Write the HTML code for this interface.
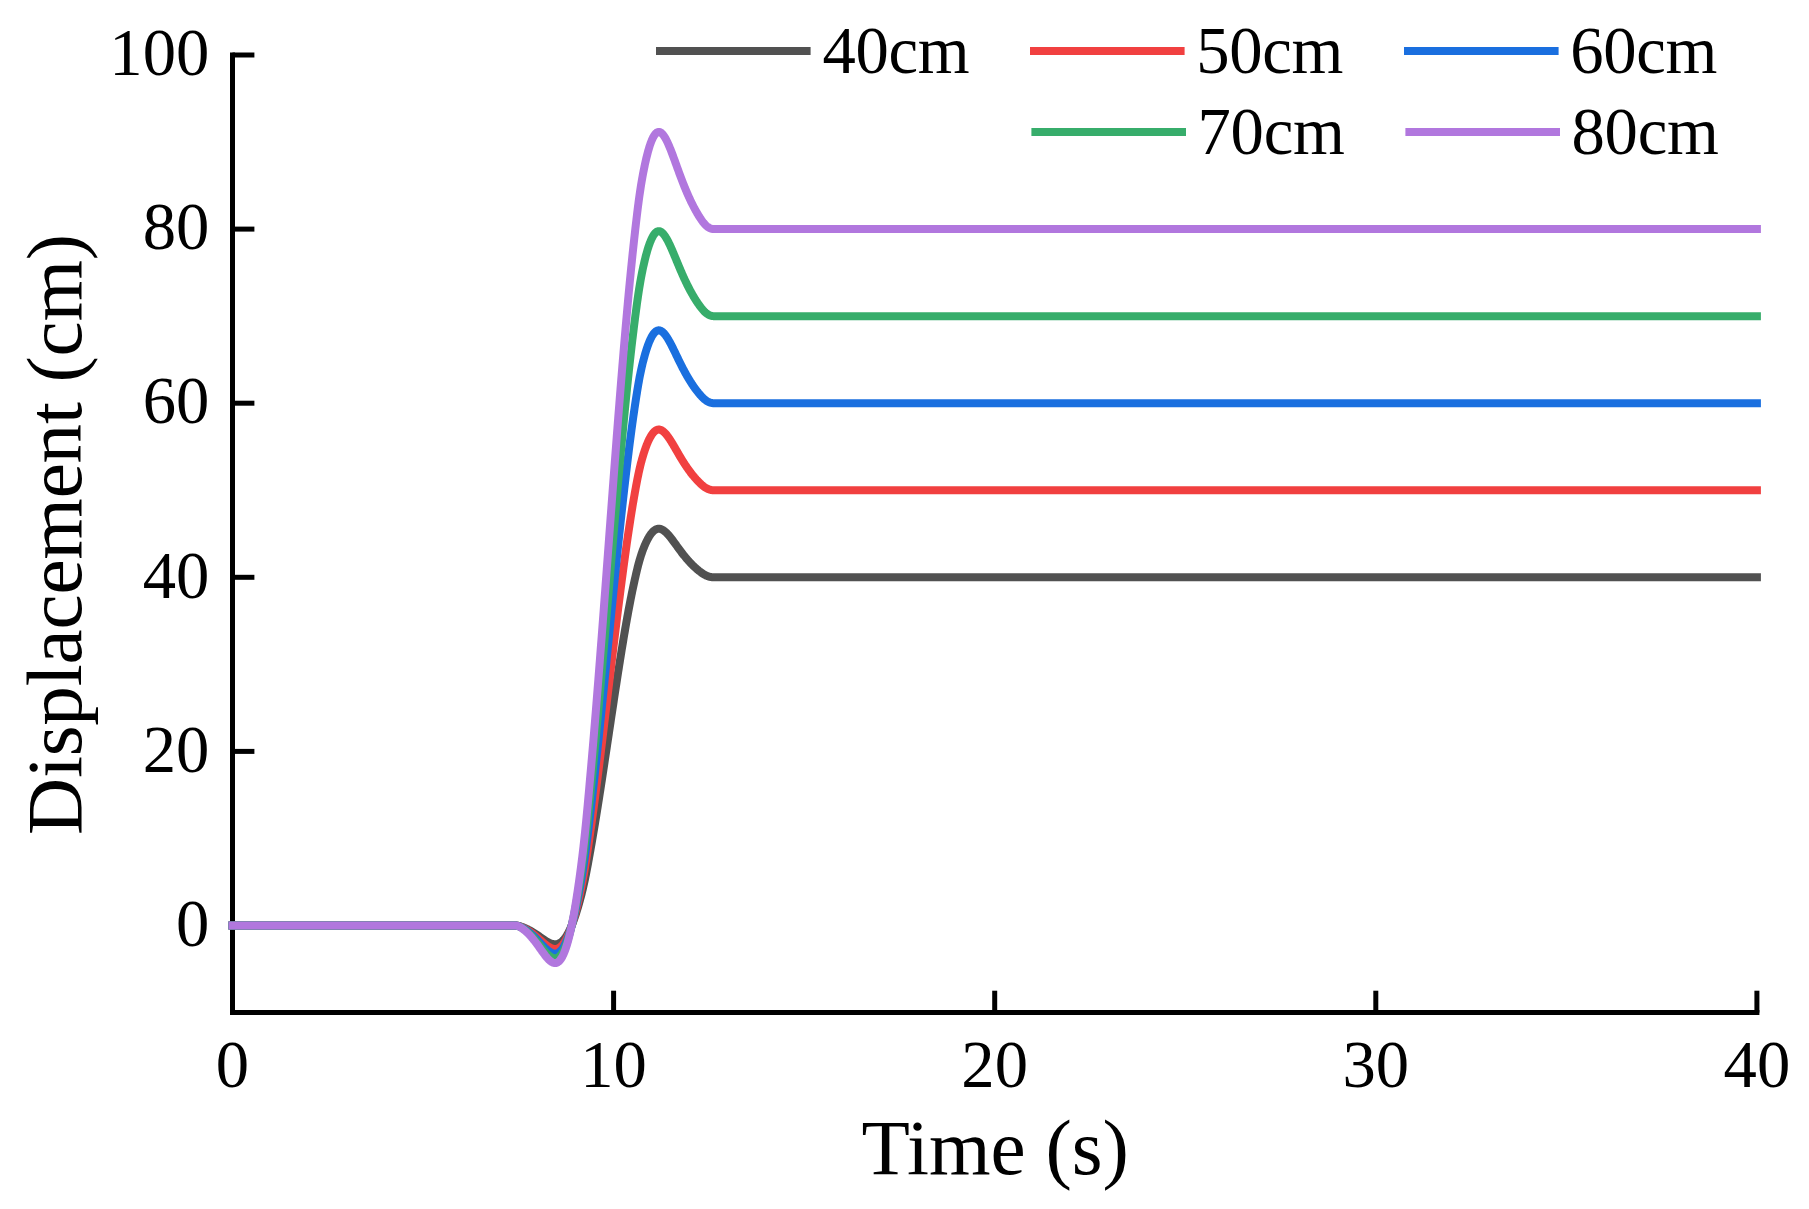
<!DOCTYPE html>
<html><head><meta charset="utf-8"><title>Displacement vs Time</title>
<style>
html,body{margin:0;padding:0;background:#fff;overflow:hidden;}
svg{display:block;}
text{font-family:"Liberation Serif","Times New Roman",serif;fill:#000;}
.tk{font-size:66.67px;}
.lb{font-size:79.17px;}
.lgt{letter-spacing:-0.3px;}
.yl{letter-spacing:-0.2px;}
.ax{stroke:#000;stroke-width:5;fill:none;stroke-linecap:square;}
.tick{stroke:#000;stroke-width:5;fill:none;stroke-linecap:butt;}
.ln{fill:none;stroke-width:8;stroke-linejoin:round;stroke-linecap:square;}
.lg{fill:none;stroke-width:8;stroke-linecap:square;}
</style></head><body>
<svg width="1809" height="1209" viewBox="0 0 1809 1209">
<rect width="1809" height="1209" fill="#fff"/>
<path class="ax" d="M232.5 55.00 L232.5 1012.6 L1756.90 1012.6"/>
<path class="tick" d="M232.5 925.50 h21.9"/>
<path class="tick" d="M232.5 751.40 h21.9"/>
<path class="tick" d="M232.5 577.30 h21.9"/>
<path class="tick" d="M232.5 403.20 h21.9"/>
<path class="tick" d="M232.5 229.10 h21.9"/>
<path class="tick" d="M232.5 55.00 h21.9"/>
<path class="tick" d="M232.50 1012.6 v-21.9"/>
<path class="tick" d="M613.60 1012.6 v-21.9"/>
<path class="tick" d="M994.70 1012.6 v-21.9"/>
<path class="tick" d="M1375.80 1012.6 v-21.9"/>
<path class="tick" d="M1756.90 1012.6 v-21.9"/>
<path class="ln" stroke="#515151" d="M232.50 925.50 L514.51 925.50 L514.51 925.50 L514.90 925.50 L515.28 925.50 L515.66 925.51 L516.04 925.52 L516.42 925.55 L516.80 925.60 L517.18 925.65 L517.56 925.70 L517.94 925.77 L518.32 925.85 L518.71 925.93 L519.09 926.02 L519.47 926.12 L519.85 926.22 L520.23 926.33 L520.61 926.44 L520.99 926.56 L521.37 926.69 L521.75 926.81 L522.14 926.95 L522.52 927.08 L522.90 927.23 L523.28 927.37 L523.66 927.52 L524.04 927.67 L524.42 927.83 L524.80 927.99 L525.18 928.15 L525.57 928.32 L525.95 928.49 L526.33 928.66 L526.71 928.84 L527.09 929.02 L527.47 929.20 L527.85 929.39 L528.23 929.58 L528.61 929.77 L529.00 929.97 L529.38 930.17 L529.76 930.37 L530.14 930.58 L530.52 930.79 L530.90 931.00 L531.28 931.22 L531.66 931.44 L532.04 931.66 L532.43 931.89 L532.81 932.12 L533.19 932.35 L533.57 932.58 L533.95 932.82 L534.33 933.06 L534.71 933.31 L535.09 933.55 L535.47 933.80 L535.86 934.06 L536.24 934.31 L536.62 934.57 L537.00 934.82 L537.38 935.09 L537.76 935.35 L538.14 935.61 L538.52 935.88 L538.90 936.14 L539.29 936.41 L539.67 936.68 L540.05 936.95 L540.43 937.22 L540.81 937.48 L541.19 937.75 L541.57 938.02 L541.95 938.29 L542.33 938.55 L542.72 938.82 L543.10 939.08 L543.48 939.34 L543.86 939.60 L544.24 939.86 L544.62 940.11 L545.00 940.36 L545.38 940.60 L545.76 940.84 L546.15 941.08 L546.53 941.31 L546.91 941.54 L547.29 941.76 L547.67 941.97 L548.05 942.18 L548.43 942.38 L548.81 942.57 L549.19 942.75 L549.58 942.93 L549.96 943.10 L550.34 943.26 L550.72 943.40 L551.10 943.54 L551.48 943.67 L551.86 943.79 L552.24 943.89 L552.62 943.98 L553.01 944.07 L553.39 944.13 L553.77 944.19 L554.15 944.23 L554.53 944.26 L554.91 944.27 L555.29 944.27 L555.67 944.25 L556.05 944.22 L556.43 944.17 L556.82 944.11 L557.20 944.02 L557.58 943.92 L557.96 943.81 L558.34 943.67 L558.72 943.52 L559.10 943.35 L559.48 943.15 L559.86 942.94 L560.25 942.71 L560.63 942.46 L561.01 942.19 L561.39 941.90 L561.77 941.59 L562.15 941.25 L562.53 940.90 L562.91 940.52 L563.29 940.13 L563.68 939.71 L564.06 939.26 L564.44 938.80 L564.82 938.31 L565.20 937.80 L565.58 937.27 L565.96 936.71 L566.34 936.13 L566.72 935.53 L567.11 934.90 L567.49 934.25 L567.87 933.58 L568.25 932.88 L568.63 932.16 L569.01 931.41 L569.39 930.65 L569.77 929.85 L570.15 929.04 L570.54 928.20 L570.92 927.34 L571.30 926.45 L571.68 925.54 L572.06 924.60 L572.44 923.65 L572.82 922.67 L573.20 921.66 L573.58 920.63 L573.97 919.58 L574.35 918.51 L574.73 917.41 L575.11 916.29 L575.49 915.15 L575.87 913.99 L576.25 912.80 L576.63 911.59 L577.01 910.36 L577.40 909.11 L577.78 907.83 L578.16 906.54 L578.54 905.22 L578.92 903.88 L579.30 902.52 L579.68 901.14 L580.06 899.73 L580.44 898.31 L580.83 896.87 L581.21 895.40 L581.59 893.90 L581.97 892.37 L582.35 890.81 L582.73 889.22 L583.11 887.60 L583.49 885.93 L583.87 884.24 L584.26 882.50 L584.64 880.73 L585.02 878.92 L585.40 877.07 L585.78 875.19 L586.16 873.27 L586.54 871.31 L586.92 869.32 L587.30 867.31 L587.69 865.26 L588.07 863.19 L588.45 861.10 L588.83 858.99 L589.21 856.87 L589.59 854.73 L589.97 852.59 L590.35 850.45 L590.73 848.31 L591.12 846.15 L591.50 843.99 L591.88 841.80 L592.26 839.60 L592.64 837.39 L593.02 835.15 L593.40 832.91 L593.78 830.64 L594.16 828.37 L594.54 826.08 L594.93 823.77 L595.31 821.45 L595.69 819.12 L596.07 816.78 L596.45 814.42 L596.83 812.06 L597.21 809.68 L597.59 807.29 L597.97 804.89 L598.36 802.48 L598.74 800.06 L599.12 797.63 L599.50 795.19 L599.88 792.74 L600.26 790.28 L600.64 787.81 L601.02 785.34 L601.40 782.86 L601.79 780.37 L602.17 777.88 L602.55 775.38 L602.93 772.87 L603.31 770.36 L603.69 767.84 L604.07 765.32 L604.45 762.79 L604.83 760.26 L605.22 757.73 L605.60 755.19 L605.98 752.65 L606.36 750.11 L606.74 747.56 L607.12 745.01 L607.50 742.46 L607.88 739.91 L608.26 737.36 L608.65 734.81 L609.03 732.26 L609.41 729.71 L609.79 727.16 L610.17 724.61 L610.55 722.06 L610.93 719.52 L611.31 716.97 L611.69 714.43 L612.08 711.89 L612.46 709.36 L612.84 706.83 L613.22 704.30 L613.60 701.78 L613.98 699.26 L614.36 696.75 L614.74 694.24 L615.12 691.74 L615.51 689.24 L615.89 686.76 L616.27 684.28 L616.65 681.80 L617.03 679.34 L617.41 676.88 L617.79 674.43 L618.17 671.99 L618.55 669.56 L618.94 667.13 L619.32 664.72 L619.70 662.32 L620.08 659.93 L620.46 657.55 L620.84 655.18 L621.22 652.82 L621.60 650.48 L621.98 648.15 L622.37 645.83 L622.75 643.52 L623.13 641.23 L623.51 638.95 L623.89 636.69 L624.27 634.44 L624.65 632.21 L625.03 629.99 L625.41 627.79 L625.80 625.60 L626.18 623.43 L626.56 621.28 L626.94 619.15 L627.32 617.03 L627.70 614.93 L628.08 612.85 L628.46 610.79 L628.84 608.75 L629.23 606.72 L629.61 604.72 L629.99 602.74 L630.37 600.78 L630.75 598.84 L631.13 596.92 L631.51 595.02 L631.89 593.14 L632.27 591.29 L632.65 589.46 L633.04 587.65 L633.42 585.87 L633.80 584.11 L634.18 582.37 L634.56 580.66 L634.94 578.96 L635.32 577.27 L635.70 575.60 L636.08 573.94 L636.47 572.30 L636.85 570.69 L637.23 569.11 L637.61 567.56 L637.99 566.05 L638.37 564.57 L638.75 563.14 L639.13 561.74 L639.51 560.38 L639.90 559.07 L640.28 557.80 L640.66 556.56 L641.04 555.37 L641.42 554.21 L641.80 553.09 L642.18 552.00 L642.56 550.95 L642.94 549.92 L643.33 548.92 L643.71 547.94 L644.09 546.99 L644.47 546.05 L644.85 545.14 L645.23 544.26 L645.61 543.40 L645.99 542.56 L646.37 541.75 L646.76 540.97 L647.14 540.20 L647.52 539.46 L647.90 538.75 L648.28 538.06 L648.66 537.40 L649.04 536.76 L649.42 536.14 L649.80 535.55 L650.19 534.99 L650.57 534.44 L650.95 533.93 L651.33 533.43 L651.71 532.97 L652.09 532.52 L652.47 532.10 L652.85 531.71 L653.23 531.34 L653.62 530.99 L654.00 530.67 L654.38 530.38 L654.76 530.10 L655.14 529.86 L655.52 529.63 L655.90 529.43 L656.28 529.26 L656.66 529.11 L657.05 528.99 L657.43 528.88 L657.81 528.81 L658.19 528.76 L658.57 528.73 L658.95 528.73 L659.33 528.75 L659.71 528.80 L660.09 528.86 L660.48 528.96 L660.86 529.07 L661.24 529.20 L661.62 529.36 L662.00 529.53 L662.38 529.73 L662.76 529.94 L663.14 530.17 L663.52 530.42 L663.91 530.69 L664.29 530.97 L664.67 531.27 L665.05 531.59 L665.43 531.92 L665.81 532.26 L666.19 532.62 L666.57 532.99 L666.95 533.37 L667.34 533.77 L667.72 534.18 L668.10 534.59 L668.48 535.02 L668.86 535.46 L669.24 535.91 L669.62 536.36 L670.00 536.82 L670.38 537.30 L670.76 537.77 L671.15 538.26 L671.53 538.75 L671.91 539.24 L672.29 539.75 L672.67 540.25 L673.05 540.76 L673.43 541.28 L673.81 541.79 L674.19 542.31 L674.58 542.83 L674.96 543.36 L675.34 543.88 L675.72 544.41 L676.10 544.94 L676.48 545.47 L676.86 545.99 L677.24 546.52 L677.62 547.05 L678.01 547.57 L678.39 548.10 L678.77 548.62 L679.15 549.14 L679.53 549.66 L679.91 550.18 L680.29 550.69 L680.67 551.20 L681.05 551.71 L681.44 552.21 L681.82 552.71 L682.20 553.21 L682.58 553.70 L682.96 554.19 L683.34 554.67 L683.72 555.15 L684.10 555.63 L684.48 556.10 L684.87 556.57 L685.25 557.03 L685.63 557.49 L686.01 557.95 L686.39 558.40 L686.77 558.85 L687.15 559.29 L687.53 559.72 L687.91 560.16 L688.30 560.59 L688.68 561.01 L689.06 561.43 L689.44 561.85 L689.82 562.26 L690.20 562.66 L690.58 563.07 L690.96 563.47 L691.34 563.86 L691.73 564.25 L692.11 564.63 L692.49 565.02 L692.87 565.39 L693.25 565.76 L693.63 566.13 L694.01 566.49 L694.39 566.85 L694.77 567.21 L695.16 567.56 L695.54 567.91 L695.92 568.25 L696.30 568.58 L696.68 568.92 L697.06 569.25 L697.44 569.57 L697.82 569.89 L698.20 570.21 L698.59 570.52 L698.97 570.82 L699.35 571.13 L699.73 571.42 L700.11 571.72 L700.49 572.01 L700.87 572.29 L701.25 572.57 L701.63 572.85 L702.02 573.12 L702.40 573.38 L702.78 573.64 L703.16 573.89 L703.54 574.13 L703.92 574.36 L704.30 574.58 L704.68 574.79 L705.06 575.00 L705.45 575.19 L705.83 575.38 L706.21 575.56 L706.59 575.73 L706.97 575.89 L707.35 576.04 L707.73 576.19 L708.11 576.32 L708.49 576.45 L708.87 576.56 L709.26 576.67 L709.64 576.77 L710.02 576.86 L710.40 576.95 L710.78 577.02 L711.16 577.09 L711.54 577.14 L711.92 577.19 L712.30 577.23 L712.69 577.26 L713.07 577.28 L713.45 577.30 L713.83 577.30 L714.21 577.30 L714.59 577.30 L714.97 577.30 L1756.90 577.30"/>
<path class="ln" stroke="#F14040" d="M232.50 925.50 L514.51 925.50 L514.51 925.50 L514.90 925.50 L515.28 925.50 L515.66 925.51 L516.04 925.53 L516.42 925.57 L516.80 925.62 L517.18 925.68 L517.56 925.76 L517.94 925.84 L518.32 925.94 L518.71 926.04 L519.09 926.15 L519.47 926.27 L519.85 926.40 L520.23 926.54 L520.61 926.68 L520.99 926.83 L521.37 926.98 L521.75 927.14 L522.14 927.31 L522.52 927.48 L522.90 927.66 L523.28 927.84 L523.66 928.02 L524.04 928.21 L524.42 928.41 L524.80 928.61 L525.18 928.81 L525.57 929.02 L525.95 929.23 L526.33 929.45 L526.71 929.67 L527.09 929.90 L527.47 930.13 L527.85 930.36 L528.23 930.60 L528.61 930.84 L529.00 931.09 L529.38 931.34 L529.76 931.59 L530.14 931.85 L530.52 932.11 L530.90 932.38 L531.28 932.65 L531.66 932.92 L532.04 933.20 L532.43 933.48 L532.81 933.77 L533.19 934.06 L533.57 934.35 L533.95 934.65 L534.33 934.95 L534.71 935.26 L535.09 935.57 L535.47 935.88 L535.86 936.19 L536.24 936.51 L536.62 936.83 L537.00 937.16 L537.38 937.48 L537.76 937.81 L538.14 938.14 L538.52 938.47 L538.90 938.80 L539.29 939.14 L539.67 939.47 L540.05 939.81 L540.43 940.14 L540.81 940.48 L541.19 940.82 L541.57 941.15 L541.95 941.49 L542.33 941.82 L542.72 942.15 L543.10 942.48 L543.48 942.80 L543.86 943.13 L544.24 943.45 L544.62 943.76 L545.00 944.07 L545.38 944.38 L545.76 944.68 L546.15 944.98 L546.53 945.26 L546.91 945.55 L547.29 945.82 L547.67 946.09 L548.05 946.35 L548.43 946.60 L548.81 946.84 L549.19 947.07 L549.58 947.29 L549.96 947.50 L550.34 947.69 L550.72 947.88 L551.10 948.05 L551.48 948.21 L551.86 948.36 L552.24 948.49 L552.62 948.61 L553.01 948.71 L553.39 948.79 L553.77 948.86 L554.15 948.91 L554.53 948.95 L554.91 948.96 L555.29 948.96 L555.67 948.94 L556.05 948.90 L556.43 948.84 L556.82 948.76 L557.20 948.65 L557.58 948.53 L557.96 948.38 L558.34 948.21 L558.72 948.02 L559.10 947.81 L559.48 947.57 L559.86 947.30 L560.25 947.02 L560.63 946.70 L561.01 946.36 L561.39 946.00 L561.77 945.61 L562.15 945.19 L562.53 944.75 L562.91 944.28 L563.29 943.78 L563.68 943.26 L564.06 942.70 L564.44 942.12 L564.82 941.51 L565.20 940.87 L565.58 940.21 L565.96 939.51 L566.34 938.79 L566.72 938.03 L567.11 937.25 L567.49 936.44 L567.87 935.60 L568.25 934.72 L568.63 933.82 L569.01 932.89 L569.39 931.93 L569.77 930.94 L570.15 929.92 L570.54 928.87 L570.92 927.79 L571.30 926.69 L571.68 925.55 L572.06 924.38 L572.44 923.18 L572.82 921.96 L573.20 920.70 L573.58 919.42 L573.97 918.10 L574.35 916.76 L574.73 915.39 L575.11 913.99 L575.49 912.57 L575.87 911.11 L576.25 909.63 L576.63 908.11 L577.01 906.58 L577.40 905.01 L577.78 903.42 L578.16 901.79 L578.54 900.15 L578.92 898.47 L579.30 896.77 L579.68 895.04 L580.06 893.29 L580.44 891.52 L580.83 889.71 L581.21 887.87 L581.59 886.00 L581.97 884.09 L582.35 882.14 L582.73 880.15 L583.11 878.12 L583.49 876.04 L583.87 873.92 L584.26 871.75 L584.64 869.54 L585.02 867.27 L585.40 864.96 L585.78 862.61 L586.16 860.21 L586.54 857.76 L586.92 855.28 L587.30 852.76 L587.69 850.20 L588.07 847.62 L588.45 845.00 L588.83 842.37 L589.21 839.71 L589.59 837.04 L589.97 834.37 L590.35 831.69 L590.73 829.01 L591.12 826.32 L591.50 823.61 L591.88 820.88 L592.26 818.13 L592.64 815.36 L593.02 812.57 L593.40 809.76 L593.78 806.93 L594.16 804.08 L594.54 801.22 L594.93 798.34 L595.31 795.44 L595.69 792.53 L596.07 789.60 L596.45 786.66 L596.83 783.70 L597.21 780.72 L597.59 777.74 L597.97 774.74 L598.36 771.72 L598.74 768.70 L599.12 765.66 L599.50 762.61 L599.88 759.55 L600.26 756.47 L600.64 753.39 L601.02 750.30 L601.40 747.20 L601.79 744.09 L602.17 740.97 L602.55 737.85 L602.93 734.71 L603.31 731.57 L603.69 728.43 L604.07 725.27 L604.45 722.12 L604.83 718.95 L605.22 715.78 L605.60 712.61 L605.98 709.44 L606.36 706.26 L606.74 703.07 L607.12 699.89 L607.50 696.70 L607.88 693.52 L608.26 690.33 L608.65 687.14 L609.03 683.95 L609.41 680.76 L609.79 677.57 L610.17 674.39 L610.55 671.20 L610.93 668.02 L611.31 664.84 L611.69 661.66 L612.08 658.49 L612.46 655.32 L612.84 652.16 L613.22 649.00 L613.60 645.85 L613.98 642.70 L614.36 639.56 L614.74 636.43 L615.12 633.30 L615.51 630.18 L615.89 627.07 L616.27 623.97 L616.65 620.88 L617.03 617.79 L617.41 614.72 L617.79 611.66 L618.17 608.61 L618.55 605.57 L618.94 602.54 L619.32 599.53 L619.70 596.53 L620.08 593.54 L620.46 590.56 L620.84 587.60 L621.22 584.66 L621.60 581.73 L621.98 578.81 L622.37 575.91 L622.75 573.03 L623.13 570.17 L623.51 567.32 L623.89 564.49 L624.27 561.68 L624.65 558.89 L625.03 556.11 L625.41 553.36 L625.80 550.63 L626.18 547.92 L626.56 545.23 L626.94 542.56 L627.32 539.91 L627.70 537.29 L628.08 534.69 L628.46 532.11 L628.84 529.56 L629.23 527.03 L629.61 524.53 L629.99 522.05 L630.37 519.59 L630.75 517.17 L631.13 514.77 L631.51 512.40 L631.89 510.05 L632.27 507.74 L632.65 505.45 L633.04 503.19 L633.42 500.96 L633.80 498.76 L634.18 496.59 L634.56 494.45 L634.94 492.33 L635.32 490.22 L635.70 488.12 L636.08 486.05 L636.47 484.00 L636.85 481.99 L637.23 480.01 L637.61 478.07 L637.99 476.18 L638.37 474.34 L638.75 472.54 L639.13 470.80 L639.51 469.11 L639.90 467.46 L640.28 465.87 L640.66 464.33 L641.04 462.84 L641.42 461.39 L641.80 459.99 L642.18 458.63 L642.56 457.31 L642.94 456.03 L643.33 454.78 L643.71 453.55 L644.09 452.36 L644.47 451.19 L644.85 450.06 L645.23 448.95 L645.61 447.87 L645.99 446.83 L646.37 445.81 L646.76 444.83 L647.14 443.88 L647.52 442.96 L647.90 442.06 L648.28 441.20 L648.66 440.37 L649.04 439.57 L649.42 438.80 L649.80 438.07 L650.19 437.36 L650.57 436.68 L650.95 436.03 L651.33 435.42 L651.71 434.83 L652.09 434.28 L652.47 433.75 L652.85 433.26 L653.23 432.80 L653.62 432.37 L654.00 431.96 L654.38 431.59 L654.76 431.25 L655.14 430.94 L655.52 430.67 L655.90 430.42 L656.28 430.20 L656.66 430.01 L657.05 429.86 L657.43 429.73 L657.81 429.64 L658.19 429.57 L658.57 429.54 L658.95 429.54 L659.33 429.56 L659.71 429.62 L660.09 429.70 L660.48 429.82 L660.86 429.96 L661.24 430.13 L661.62 430.32 L662.00 430.54 L662.38 430.78 L662.76 431.05 L663.14 431.34 L663.52 431.65 L663.91 431.99 L664.29 432.34 L664.67 432.72 L665.05 433.11 L665.43 433.52 L665.81 433.95 L666.19 434.40 L666.57 434.86 L666.95 435.34 L667.34 435.84 L667.72 436.35 L668.10 436.87 L668.48 437.40 L668.86 437.95 L669.24 438.51 L669.62 439.08 L670.00 439.66 L670.38 440.24 L670.76 440.84 L671.15 441.45 L671.53 442.06 L671.91 442.68 L672.29 443.31 L672.67 443.94 L673.05 444.58 L673.43 445.22 L673.81 445.87 L674.19 446.52 L674.58 447.17 L674.96 447.82 L675.34 448.48 L675.72 449.14 L676.10 449.80 L676.48 450.46 L676.86 451.12 L677.24 451.78 L677.62 452.43 L678.01 453.09 L678.39 453.75 L678.77 454.40 L679.15 455.05 L679.53 455.70 L679.91 456.34 L680.29 456.99 L680.67 457.62 L681.05 458.26 L681.44 458.89 L681.82 459.51 L682.20 460.13 L682.58 460.75 L682.96 461.36 L683.34 461.97 L683.72 462.57 L684.10 463.16 L684.48 463.75 L684.87 464.34 L685.25 464.92 L685.63 465.49 L686.01 466.06 L686.39 466.62 L686.77 467.18 L687.15 467.73 L687.53 468.28 L687.91 468.82 L688.30 469.36 L688.68 469.89 L689.06 470.41 L689.44 470.93 L689.82 471.45 L690.20 471.96 L690.58 472.46 L690.96 472.96 L691.34 473.45 L691.73 473.94 L692.11 474.42 L692.49 474.89 L692.87 475.36 L693.25 475.83 L693.63 476.29 L694.01 476.74 L694.39 477.19 L694.77 477.64 L695.16 478.07 L695.54 478.51 L695.92 478.93 L696.30 479.36 L696.68 479.77 L697.06 480.18 L697.44 480.59 L697.82 480.99 L698.20 481.38 L698.59 481.77 L698.97 482.15 L699.35 482.53 L699.73 482.91 L700.11 483.27 L700.49 483.63 L700.87 483.99 L701.25 484.34 L701.63 484.69 L702.02 485.03 L702.40 485.35 L702.78 485.67 L703.16 485.98 L703.54 486.28 L703.92 486.57 L704.30 486.85 L704.68 487.12 L705.06 487.37 L705.45 487.62 L705.83 487.85 L706.21 488.07 L706.59 488.29 L706.97 488.49 L707.35 488.68 L707.73 488.86 L708.11 489.03 L708.49 489.18 L708.87 489.33 L709.26 489.47 L709.64 489.59 L710.02 489.71 L710.40 489.81 L710.78 489.90 L711.16 489.98 L711.54 490.05 L711.92 490.11 L712.30 490.16 L712.69 490.20 L713.07 490.23 L713.45 490.24 L713.83 490.25 L714.21 490.25 L714.59 490.25 L714.97 490.25 L1756.90 490.25"/>
<path class="ln" stroke="#1A6FDF" d="M232.50 925.50 L514.51 925.50 L514.51 925.50 L514.90 925.50 L515.28 925.50 L515.66 925.51 L516.04 925.54 L516.42 925.58 L516.80 925.64 L517.18 925.72 L517.56 925.81 L517.94 925.91 L518.32 926.02 L518.71 926.15 L519.09 926.28 L519.47 926.43 L519.85 926.58 L520.23 926.74 L520.61 926.92 L520.99 927.09 L521.37 927.28 L521.75 927.47 L522.14 927.67 L522.52 927.88 L522.90 928.09 L523.28 928.31 L523.66 928.53 L524.04 928.76 L524.42 928.99 L524.80 929.23 L525.18 929.48 L525.57 929.73 L525.95 929.98 L526.33 930.24 L526.71 930.51 L527.09 930.78 L527.47 931.05 L527.85 931.33 L528.23 931.62 L528.61 931.91 L529.00 932.20 L529.38 932.50 L529.76 932.81 L530.14 933.12 L530.52 933.43 L530.90 933.75 L531.28 934.08 L531.66 934.41 L532.04 934.74 L532.43 935.08 L532.81 935.42 L533.19 935.77 L533.57 936.13 L533.95 936.48 L534.33 936.84 L534.71 937.21 L535.09 937.58 L535.47 937.96 L535.86 938.33 L536.24 938.71 L536.62 939.10 L537.00 939.49 L537.38 939.88 L537.76 940.27 L538.14 940.67 L538.52 941.06 L538.90 941.46 L539.29 941.87 L539.67 942.27 L540.05 942.67 L540.43 943.07 L540.81 943.48 L541.19 943.88 L541.57 944.28 L541.95 944.68 L542.33 945.08 L542.72 945.48 L543.10 945.87 L543.48 946.26 L543.86 946.65 L544.24 947.04 L544.62 947.41 L545.00 947.79 L545.38 948.15 L545.76 948.52 L546.15 948.87 L546.53 949.22 L546.91 949.56 L547.29 949.89 L547.67 950.21 L548.05 950.52 L548.43 950.82 L548.81 951.10 L549.19 951.38 L549.58 951.64 L549.96 951.90 L550.34 952.13 L550.72 952.36 L551.10 952.56 L551.48 952.75 L551.86 952.93 L552.24 953.09 L552.62 953.23 L553.01 953.35 L553.39 953.45 L553.77 953.53 L554.15 953.60 L554.53 953.64 L554.91 953.66 L555.29 953.65 L555.67 953.63 L556.05 953.58 L556.43 953.51 L556.82 953.41 L557.20 953.28 L557.58 953.13 L557.96 952.96 L558.34 952.76 L558.72 952.53 L559.10 952.27 L559.48 951.98 L559.86 951.66 L560.25 951.32 L560.63 950.94 L561.01 950.54 L561.39 950.10 L561.77 949.63 L562.15 949.13 L562.53 948.60 L562.91 948.04 L563.29 947.44 L563.68 946.81 L564.06 946.14 L564.44 945.45 L564.82 944.72 L565.20 943.95 L565.58 943.15 L565.96 942.31 L566.34 941.45 L566.72 940.54 L567.11 939.60 L567.49 938.63 L567.87 937.62 L568.25 936.57 L568.63 935.49 L569.01 934.37 L569.39 933.22 L569.77 932.03 L570.15 930.81 L570.54 929.55 L570.92 928.25 L571.30 926.92 L571.68 925.56 L572.06 924.16 L572.44 922.72 L572.82 921.25 L573.20 919.74 L573.58 918.20 L573.97 916.62 L574.35 915.01 L574.73 913.37 L575.11 911.69 L575.49 909.98 L575.87 908.23 L576.25 906.45 L576.63 904.64 L577.01 902.79 L577.40 900.91 L577.78 899.00 L578.16 897.05 L578.54 895.08 L578.92 893.07 L579.30 891.02 L579.68 888.95 L580.06 886.85 L580.44 884.72 L580.83 882.55 L581.21 880.35 L581.59 878.10 L581.97 875.81 L582.35 873.47 L582.73 871.08 L583.11 868.64 L583.49 866.15 L583.87 863.61 L584.26 861.00 L584.64 858.34 L585.02 855.63 L585.40 852.86 L585.78 850.03 L586.16 847.15 L586.54 844.22 L586.92 841.24 L587.30 838.21 L587.69 835.14 L588.07 832.04 L588.45 828.90 L588.83 825.74 L589.21 822.55 L589.59 819.35 L589.97 816.14 L590.35 812.92 L590.73 809.71 L591.12 806.48 L591.50 803.23 L591.88 799.95 L592.26 796.65 L592.64 793.33 L593.02 789.98 L593.40 786.61 L593.78 783.22 L594.16 779.80 L594.54 776.36 L594.93 772.91 L595.31 769.43 L595.69 765.94 L596.07 762.42 L596.45 758.89 L596.83 755.34 L597.21 751.77 L597.59 748.18 L597.97 744.58 L598.36 740.97 L598.74 737.33 L599.12 733.69 L599.50 730.03 L599.88 726.36 L600.26 722.67 L600.64 718.97 L601.02 715.26 L601.40 711.54 L601.79 707.81 L602.17 704.07 L602.55 700.32 L602.93 696.56 L603.31 692.79 L603.69 689.01 L604.07 685.23 L604.45 681.44 L604.83 677.64 L605.22 673.84 L605.60 670.03 L605.98 666.22 L606.36 662.41 L606.74 658.59 L607.12 654.77 L607.50 650.95 L607.88 647.12 L608.26 643.29 L608.65 639.47 L609.03 635.64 L609.41 631.81 L609.79 627.99 L610.17 624.16 L610.55 620.34 L610.93 616.52 L611.31 612.71 L611.69 608.90 L612.08 605.09 L612.46 601.29 L612.84 597.49 L613.22 593.70 L613.60 589.92 L613.98 586.14 L614.36 582.37 L614.74 578.61 L615.12 574.86 L615.51 571.12 L615.89 567.38 L616.27 563.66 L616.65 559.95 L617.03 556.25 L617.41 552.57 L617.79 548.89 L618.17 545.23 L618.55 541.58 L618.94 537.95 L619.32 534.33 L619.70 530.73 L620.08 527.14 L620.46 523.57 L620.84 520.02 L621.22 516.49 L621.60 512.97 L621.98 509.47 L622.37 505.99 L622.75 502.54 L623.13 499.10 L623.51 495.68 L623.89 492.29 L624.27 488.91 L624.65 485.56 L625.03 482.24 L625.41 478.93 L625.80 475.65 L626.18 472.40 L626.56 469.17 L626.94 465.97 L627.32 462.79 L627.70 459.65 L628.08 456.53 L628.46 453.43 L628.84 450.37 L629.23 447.34 L629.61 444.33 L629.99 441.36 L630.37 438.41 L630.75 435.50 L631.13 432.62 L631.51 429.78 L631.89 426.96 L632.27 424.18 L632.65 421.44 L633.04 418.73 L633.42 416.05 L633.80 413.41 L634.18 410.81 L634.56 408.24 L634.94 405.70 L635.32 403.16 L635.70 400.64 L636.08 398.16 L636.47 395.70 L636.85 393.28 L637.23 390.91 L637.61 388.59 L637.99 386.32 L638.37 384.11 L638.75 381.95 L639.13 379.86 L639.51 377.83 L639.90 375.85 L640.28 373.94 L640.66 372.09 L641.04 370.30 L641.42 368.57 L641.80 366.89 L642.18 365.25 L642.56 363.67 L642.94 362.13 L643.33 360.63 L643.71 359.17 L644.09 357.73 L644.47 356.33 L644.85 354.97 L645.23 353.64 L645.61 352.35 L645.99 351.10 L646.37 349.88 L646.76 348.70 L647.14 347.55 L647.52 346.45 L647.90 345.38 L648.28 344.34 L648.66 343.35 L649.04 342.39 L649.42 341.46 L649.80 340.58 L650.19 339.73 L650.57 338.92 L650.95 338.14 L651.33 337.40 L651.71 336.70 L652.09 336.03 L652.47 335.41 L652.85 334.81 L653.23 334.26 L653.62 333.74 L654.00 333.26 L654.38 332.81 L654.76 332.40 L655.14 332.03 L655.52 331.70 L655.90 331.40 L656.28 331.14 L656.66 330.92 L657.05 330.73 L657.43 330.58 L657.81 330.46 L658.19 330.39 L658.57 330.35 L658.95 330.34 L659.33 330.37 L659.71 330.44 L660.09 330.55 L660.48 330.68 L660.86 330.85 L661.24 331.05 L661.62 331.29 L662.00 331.55 L662.38 331.84 L662.76 332.16 L663.14 332.51 L663.52 332.88 L663.91 333.29 L664.29 333.71 L664.67 334.16 L665.05 334.63 L665.43 335.13 L665.81 335.64 L666.19 336.18 L666.57 336.74 L666.95 337.31 L667.34 337.90 L667.72 338.51 L668.10 339.14 L668.48 339.78 L668.86 340.44 L669.24 341.11 L669.62 341.79 L670.00 342.49 L670.38 343.19 L670.76 343.91 L671.15 344.64 L671.53 345.37 L671.91 346.12 L672.29 346.87 L672.67 347.63 L673.05 348.39 L673.43 349.16 L673.81 349.94 L674.19 350.72 L674.58 351.50 L674.96 352.29 L675.34 353.08 L675.72 353.87 L676.10 354.66 L676.48 355.45 L676.86 356.24 L677.24 357.03 L677.62 357.82 L678.01 358.61 L678.39 359.40 L678.77 360.18 L679.15 360.96 L679.53 361.74 L679.91 362.51 L680.29 363.28 L680.67 364.05 L681.05 364.81 L681.44 365.56 L681.82 366.32 L682.20 367.06 L682.58 367.80 L682.96 368.53 L683.34 369.26 L683.72 369.98 L684.10 370.70 L684.48 371.40 L684.87 372.11 L685.25 372.80 L685.63 373.49 L686.01 374.17 L686.39 374.85 L686.77 375.52 L687.15 376.18 L687.53 376.84 L687.91 377.49 L688.30 378.13 L688.68 378.77 L689.06 379.40 L689.44 380.02 L689.82 380.64 L690.20 381.25 L690.58 381.85 L690.96 382.45 L691.34 383.04 L691.73 383.62 L692.11 384.20 L692.49 384.77 L692.87 385.34 L693.25 385.90 L693.63 386.45 L694.01 386.99 L694.39 387.53 L694.77 388.06 L695.16 388.59 L695.54 389.11 L695.92 389.62 L696.30 390.13 L696.68 390.63 L697.06 391.12 L697.44 391.60 L697.82 392.08 L698.20 392.56 L698.59 393.02 L698.97 393.49 L699.35 393.94 L699.73 394.39 L700.11 394.83 L700.49 395.26 L700.87 395.69 L701.25 396.11 L701.63 396.52 L702.02 396.93 L702.40 397.32 L702.78 397.71 L703.16 398.08 L703.54 398.44 L703.92 398.79 L704.30 399.12 L704.68 399.44 L705.06 399.75 L705.45 400.04 L705.83 400.32 L706.21 400.59 L706.59 400.84 L706.97 401.08 L707.35 401.31 L707.73 401.53 L708.11 401.73 L708.49 401.92 L708.87 402.10 L709.26 402.26 L709.64 402.41 L710.02 402.55 L710.40 402.67 L710.78 402.78 L711.16 402.88 L711.54 402.96 L711.92 403.04 L712.30 403.10 L712.69 403.14 L713.07 403.17 L713.45 403.19 L713.83 403.20 L714.21 403.20 L714.59 403.20 L714.97 403.20 L1756.90 403.20"/>
<path class="ln" stroke="#37AD6B" d="M232.50 925.50 L514.51 925.50 L514.51 925.50 L514.90 925.50 L515.28 925.50 L515.66 925.51 L516.04 925.54 L516.42 925.60 L516.80 925.67 L517.18 925.75 L517.56 925.86 L517.94 925.98 L518.32 926.11 L518.71 926.26 L519.09 926.41 L519.47 926.58 L519.85 926.76 L520.23 926.95 L520.61 927.15 L520.99 927.36 L521.37 927.58 L521.75 927.80 L522.14 928.03 L522.52 928.27 L522.90 928.52 L523.28 928.77 L523.66 929.03 L524.04 929.30 L524.42 929.57 L524.80 929.85 L525.18 930.14 L525.57 930.43 L525.95 930.73 L526.33 931.03 L526.71 931.34 L527.09 931.66 L527.47 931.98 L527.85 932.30 L528.23 932.64 L528.61 932.97 L529.00 933.32 L529.38 933.67 L529.76 934.02 L530.14 934.39 L530.52 934.75 L530.90 935.13 L531.28 935.51 L531.66 935.89 L532.04 936.28 L532.43 936.68 L532.81 937.08 L533.19 937.48 L533.57 937.90 L533.95 938.31 L534.33 938.74 L534.71 939.16 L535.09 939.59 L535.47 940.03 L535.86 940.47 L536.24 940.92 L536.62 941.37 L537.00 941.82 L537.38 942.27 L537.76 942.73 L538.14 943.19 L538.52 943.66 L538.90 944.13 L539.29 944.59 L539.67 945.06 L540.05 945.53 L540.43 946.00 L540.81 946.47 L541.19 946.94 L541.57 947.41 L541.95 947.88 L542.33 948.35 L542.72 948.81 L543.10 949.27 L543.48 949.73 L543.86 950.18 L544.24 950.62 L544.62 951.07 L545.00 951.50 L545.38 951.93 L545.76 952.35 L546.15 952.77 L546.53 953.17 L546.91 953.56 L547.29 953.95 L547.67 954.32 L548.05 954.69 L548.43 955.04 L548.81 955.37 L549.19 955.69 L549.58 956.00 L549.96 956.30 L550.34 956.57 L550.72 956.83 L551.10 957.07 L551.48 957.30 L551.86 957.50 L552.24 957.68 L552.62 957.85 L553.01 957.99 L553.39 958.11 L553.77 958.21 L554.15 958.28 L554.53 958.33 L554.91 958.35 L555.29 958.35 L555.67 958.32 L556.05 958.26 L556.43 958.17 L556.82 958.06 L557.20 957.91 L557.58 957.74 L557.96 957.54 L558.34 957.30 L558.72 957.03 L559.10 956.73 L559.48 956.39 L559.86 956.03 L560.25 955.62 L560.63 955.18 L561.01 954.71 L561.39 954.20 L561.77 953.65 L562.15 953.07 L562.53 952.45 L562.91 951.79 L563.29 951.09 L563.68 950.36 L564.06 949.58 L564.44 948.77 L564.82 947.92 L565.20 947.02 L565.58 946.09 L565.96 945.12 L566.34 944.10 L566.72 943.05 L567.11 941.95 L567.49 940.81 L567.87 939.63 L568.25 938.41 L568.63 937.15 L569.01 935.85 L569.39 934.51 L569.77 933.12 L570.15 931.69 L570.54 930.22 L570.92 928.71 L571.30 927.16 L571.68 925.57 L572.06 923.93 L572.44 922.26 L572.82 920.54 L573.20 918.78 L573.58 916.98 L573.97 915.15 L574.35 913.27 L574.73 911.35 L575.11 909.39 L575.49 907.39 L575.87 905.35 L576.25 903.28 L576.63 901.16 L577.01 899.01 L577.40 896.81 L577.78 894.58 L578.16 892.31 L578.54 890.01 L578.92 887.66 L579.30 885.28 L579.68 882.86 L580.06 880.41 L580.44 877.92 L580.83 875.39 L581.21 872.82 L581.59 870.20 L581.97 867.53 L582.35 864.80 L582.73 862.01 L583.11 859.17 L583.49 856.26 L583.87 853.29 L584.26 850.25 L584.64 847.15 L585.02 843.98 L585.40 840.75 L585.78 837.45 L586.16 834.09 L586.54 830.67 L586.92 827.19 L587.30 823.66 L587.69 820.09 L588.07 816.46 L588.45 812.80 L588.83 809.11 L589.21 805.40 L589.59 801.66 L589.97 797.91 L590.35 794.16 L590.73 790.41 L591.12 786.65 L591.50 782.85 L591.88 779.03 L592.26 775.18 L592.64 771.30 L593.02 767.39 L593.40 763.46 L593.78 759.50 L594.16 755.52 L594.54 751.51 L594.93 747.48 L595.31 743.42 L595.69 739.34 L596.07 735.24 L596.45 731.12 L596.83 726.98 L597.21 722.81 L597.59 718.63 L597.97 714.43 L598.36 710.21 L598.74 705.97 L599.12 701.72 L599.50 697.45 L599.88 693.16 L600.26 688.86 L600.64 684.55 L601.02 680.22 L601.40 675.88 L601.79 671.53 L602.17 667.16 L602.55 662.79 L602.93 658.40 L603.31 654.00 L603.69 649.60 L604.07 645.18 L604.45 640.76 L604.83 636.33 L605.22 631.90 L605.60 627.46 L605.98 623.01 L606.36 618.56 L606.74 614.10 L607.12 609.65 L607.50 605.19 L607.88 600.72 L608.26 596.26 L608.65 591.79 L609.03 587.33 L609.41 582.87 L609.79 578.40 L610.17 573.94 L610.55 569.48 L610.93 565.03 L611.31 560.58 L611.69 556.13 L612.08 551.69 L612.46 547.25 L612.84 542.82 L613.22 538.40 L613.60 533.99 L613.98 529.58 L614.36 525.18 L614.74 520.80 L615.12 516.42 L615.51 512.05 L615.89 507.70 L616.27 503.36 L616.65 499.03 L617.03 494.71 L617.41 490.41 L617.79 486.12 L618.17 481.85 L618.55 477.60 L618.94 473.36 L619.32 469.14 L619.70 464.94 L620.08 460.75 L620.46 456.59 L620.84 452.44 L621.22 448.32 L621.60 444.22 L621.98 440.14 L622.37 436.08 L622.75 432.04 L623.13 428.03 L623.51 424.05 L623.89 420.08 L624.27 416.15 L624.65 412.24 L625.03 408.36 L625.41 404.51 L625.80 400.68 L626.18 396.88 L626.56 393.12 L626.94 389.38 L627.32 385.68 L627.70 382.00 L628.08 378.36 L628.46 374.76 L628.84 371.18 L629.23 367.64 L629.61 364.14 L629.99 360.67 L630.37 357.23 L630.75 353.84 L631.13 350.48 L631.51 347.16 L631.89 343.87 L632.27 340.63 L632.65 337.43 L633.04 334.27 L633.42 331.15 L633.80 328.07 L634.18 325.03 L634.56 322.03 L634.94 319.06 L635.32 316.10 L635.70 313.17 L636.08 310.26 L636.47 307.40 L636.85 304.58 L637.23 301.81 L637.61 299.10 L637.99 296.46 L638.37 293.88 L638.75 291.36 L639.13 288.92 L639.51 286.55 L639.90 284.25 L640.28 282.02 L640.66 279.86 L641.04 277.77 L641.42 275.74 L641.80 273.78 L642.18 271.88 L642.56 270.03 L642.94 268.24 L643.33 266.49 L643.71 264.78 L644.09 263.10 L644.47 261.47 L644.85 259.88 L645.23 258.33 L645.61 256.82 L645.99 255.36 L646.37 253.94 L646.76 252.56 L647.14 251.23 L647.52 249.94 L647.90 248.69 L648.28 247.48 L648.66 246.32 L649.04 245.20 L649.42 244.13 L649.80 243.09 L650.19 242.10 L650.57 241.15 L650.95 240.25 L651.33 239.39 L651.71 238.57 L652.09 237.79 L652.47 237.06 L652.85 236.37 L653.23 235.72 L653.62 235.11 L654.00 234.55 L654.38 234.03 L654.76 233.56 L655.14 233.12 L655.52 232.73 L655.90 232.38 L656.28 232.08 L656.66 231.82 L657.05 231.60 L657.43 231.42 L657.81 231.29 L658.19 231.20 L658.57 231.15 L658.95 231.15 L659.33 231.19 L659.71 231.27 L660.09 231.39 L660.48 231.55 L660.86 231.74 L661.24 231.98 L661.62 232.25 L662.00 232.56 L662.38 232.90 L662.76 233.27 L663.14 233.68 L663.52 234.12 L663.91 234.58 L664.29 235.08 L664.67 235.60 L665.05 236.15 L665.43 236.73 L665.81 237.33 L666.19 237.96 L666.57 238.61 L666.95 239.28 L667.34 239.97 L667.72 240.68 L668.10 241.41 L668.48 242.16 L668.86 242.93 L669.24 243.71 L669.62 244.51 L670.00 245.32 L670.38 246.14 L670.76 246.98 L671.15 247.83 L671.53 248.69 L671.91 249.55 L672.29 250.43 L672.67 251.32 L673.05 252.21 L673.43 253.11 L673.81 254.01 L674.19 254.92 L674.58 255.84 L674.96 256.75 L675.34 257.67 L675.72 258.59 L676.10 259.52 L676.48 260.44 L676.86 261.36 L677.24 262.29 L677.62 263.21 L678.01 264.13 L678.39 265.05 L678.77 265.96 L679.15 266.87 L679.53 267.78 L679.91 268.68 L680.29 269.58 L680.67 270.47 L681.05 271.36 L681.44 272.24 L681.82 273.12 L682.20 273.99 L682.58 274.85 L682.96 275.71 L683.34 276.55 L683.72 277.40 L684.10 278.23 L684.48 279.06 L684.87 279.87 L685.25 280.69 L685.63 281.49 L686.01 282.29 L686.39 283.07 L686.77 283.85 L687.15 284.63 L687.53 285.39 L687.91 286.15 L688.30 286.90 L688.68 287.64 L689.06 288.38 L689.44 289.11 L689.82 289.83 L690.20 290.54 L690.58 291.24 L690.96 291.94 L691.34 292.63 L691.73 293.31 L692.11 293.98 L692.49 294.65 L692.87 295.31 L693.25 295.96 L693.63 296.61 L694.01 297.24 L694.39 297.87 L694.77 298.49 L695.16 299.10 L695.54 299.71 L695.92 300.31 L696.30 300.90 L696.68 301.48 L697.06 302.05 L697.44 302.62 L697.82 303.18 L698.20 303.73 L698.59 304.28 L698.97 304.82 L699.35 305.35 L699.73 305.87 L700.11 306.38 L700.49 306.89 L700.87 307.39 L701.25 307.88 L701.63 308.36 L702.02 308.84 L702.40 309.29 L702.78 309.74 L703.16 310.18 L703.54 310.60 L703.92 311.00 L704.30 311.39 L704.68 311.76 L705.06 312.12 L705.45 312.46 L705.83 312.79 L706.21 313.10 L706.59 313.40 L706.97 313.68 L707.35 313.95 L707.73 314.20 L708.11 314.44 L708.49 314.66 L708.87 314.86 L709.26 315.05 L709.64 315.23 L710.02 315.39 L710.40 315.53 L710.78 315.66 L711.16 315.78 L711.54 315.88 L711.92 315.96 L712.30 316.03 L712.69 316.08 L713.07 316.12 L713.45 316.14 L713.83 316.15 L714.21 316.15 L714.59 316.15 L714.97 316.15 L1756.90 316.15"/>
<path class="ln" stroke="#B177DE" d="M232.50 925.50 L514.51 925.50 L514.51 925.50 L514.90 925.50 L515.28 925.50 L515.66 925.51 L516.04 925.55 L516.42 925.61 L516.80 925.69 L517.18 925.79 L517.56 925.91 L517.94 926.05 L518.32 926.20 L518.71 926.36 L519.09 926.54 L519.47 926.74 L519.85 926.94 L520.23 927.16 L520.61 927.39 L520.99 927.62 L521.37 927.87 L521.75 928.13 L522.14 928.39 L522.52 928.67 L522.90 928.95 L523.28 929.24 L523.66 929.54 L524.04 929.84 L524.42 930.16 L524.80 930.48 L525.18 930.80 L525.57 931.13 L525.95 931.47 L526.33 931.82 L526.71 932.18 L527.09 932.54 L527.47 932.90 L527.85 933.28 L528.23 933.66 L528.61 934.04 L529.00 934.44 L529.38 934.84 L529.76 935.24 L530.14 935.66 L530.52 936.08 L530.90 936.50 L531.28 936.94 L531.66 937.37 L532.04 937.82 L532.43 938.27 L532.81 938.73 L533.19 939.20 L533.57 939.67 L533.95 940.14 L534.33 940.63 L534.71 941.11 L535.09 941.61 L535.47 942.11 L535.86 942.61 L536.24 943.12 L536.62 943.63 L537.00 944.15 L537.38 944.67 L537.76 945.20 L538.14 945.72 L538.52 946.25 L538.90 946.79 L539.29 947.32 L539.67 947.86 L540.05 948.39 L540.43 948.93 L540.81 949.47 L541.19 950.01 L541.57 950.54 L541.95 951.08 L542.33 951.61 L542.72 952.14 L543.10 952.66 L543.48 953.19 L543.86 953.70 L544.24 954.21 L544.62 954.72 L545.00 955.22 L545.38 955.71 L545.76 956.19 L546.15 956.66 L546.53 957.12 L546.91 957.57 L547.29 958.01 L547.67 958.44 L548.05 958.85 L548.43 959.25 L548.81 959.64 L549.19 960.01 L549.58 960.36 L549.96 960.69 L550.34 961.01 L550.72 961.31 L551.10 961.58 L551.48 961.84 L551.86 962.07 L552.24 962.28 L552.62 962.47 L553.01 962.63 L553.39 962.77 L553.77 962.88 L554.15 962.96 L554.53 963.02 L554.91 963.04 L555.29 963.04 L555.67 963.00 L556.05 962.94 L556.43 962.84 L556.82 962.71 L557.20 962.55 L557.58 962.35 L557.96 962.11 L558.34 961.84 L558.72 961.53 L559.10 961.19 L559.48 960.81 L559.86 960.39 L560.25 959.93 L560.63 959.42 L561.01 958.88 L561.39 958.30 L561.77 957.68 L562.15 957.01 L562.53 956.30 L562.91 955.55 L563.29 954.75 L563.68 953.91 L564.06 953.03 L564.44 952.10 L564.82 951.12 L565.20 950.10 L565.58 949.03 L565.96 947.92 L566.34 946.76 L566.72 945.55 L567.11 944.30 L567.49 943.00 L567.87 941.65 L568.25 940.26 L568.63 938.82 L569.01 937.33 L569.39 935.79 L569.77 934.21 L570.15 932.58 L570.54 930.90 L570.92 929.17 L571.30 927.40 L571.68 925.58 L572.06 923.71 L572.44 921.79 L572.82 919.83 L573.20 917.82 L573.58 915.77 L573.97 913.67 L574.35 911.52 L574.73 909.33 L575.11 907.09 L575.49 904.80 L575.87 902.48 L576.25 900.10 L576.63 897.68 L577.01 895.22 L577.40 892.72 L577.78 890.17 L578.16 887.57 L578.54 884.94 L578.92 882.26 L579.30 879.53 L579.68 876.77 L580.06 873.97 L580.44 871.13 L580.83 868.24 L581.21 865.29 L581.59 862.30 L581.97 859.24 L582.35 856.13 L582.73 852.94 L583.11 849.69 L583.49 846.37 L583.87 842.97 L584.26 839.50 L584.64 835.96 L585.02 832.34 L585.40 828.64 L585.78 824.87 L586.16 821.03 L586.54 817.12 L586.92 813.15 L587.30 809.12 L587.69 805.03 L588.07 800.89 L588.45 796.70 L588.83 792.49 L589.21 788.24 L589.59 783.97 L589.97 779.69 L590.35 775.40 L590.73 771.11 L591.12 766.81 L591.50 762.47 L591.88 758.10 L592.26 753.70 L592.64 749.27 L593.02 744.81 L593.40 740.31 L593.78 735.79 L594.16 731.23 L594.54 726.65 L594.93 722.04 L595.31 717.41 L595.69 712.75 L596.07 708.06 L596.45 703.35 L596.83 698.62 L597.21 693.86 L597.59 689.08 L597.97 684.28 L598.36 679.45 L598.74 674.61 L599.12 669.75 L599.50 664.87 L599.88 659.97 L600.26 655.06 L600.64 650.13 L601.02 645.18 L601.40 640.22 L601.79 635.25 L602.17 630.26 L602.55 625.26 L602.93 620.24 L603.31 615.22 L603.69 610.18 L604.07 605.14 L604.45 600.09 L604.83 595.02 L605.22 589.95 L605.60 584.88 L605.98 579.80 L606.36 574.71 L606.74 569.62 L607.12 564.52 L607.50 559.43 L607.88 554.33 L608.26 549.23 L608.65 544.12 L609.03 539.02 L609.41 533.92 L609.79 528.82 L610.17 523.72 L610.55 518.62 L610.93 513.53 L611.31 508.45 L611.69 503.36 L612.08 498.29 L612.46 493.22 L612.84 488.16 L613.22 483.10 L613.60 478.06 L613.98 473.02 L614.36 468.00 L614.74 462.98 L615.12 457.98 L615.51 452.99 L615.89 448.01 L616.27 443.05 L616.65 438.10 L617.03 433.17 L617.41 428.25 L617.79 423.36 L618.17 418.47 L618.55 413.61 L618.94 408.77 L619.32 403.94 L619.70 399.14 L620.08 394.36 L620.46 389.60 L620.84 384.86 L621.22 380.15 L621.60 375.46 L621.98 370.80 L622.37 366.16 L622.75 361.55 L623.13 356.97 L623.51 352.41 L623.89 347.88 L624.27 343.39 L624.65 338.92 L625.03 334.48 L625.41 330.08 L625.80 325.71 L626.18 321.37 L626.56 317.06 L626.94 312.79 L627.32 308.56 L627.70 304.36 L628.08 300.20 L628.46 296.08 L628.84 291.99 L629.23 287.95 L629.61 283.94 L629.99 279.98 L630.37 276.05 L630.75 272.17 L631.13 268.33 L631.51 264.54 L631.89 260.79 L632.27 257.08 L632.65 253.42 L633.04 249.81 L633.42 246.24 L633.80 242.72 L634.18 239.25 L634.56 235.82 L634.94 232.43 L635.32 229.05 L635.70 225.69 L636.08 222.37 L636.47 219.10 L636.85 215.88 L637.23 212.72 L637.61 209.62 L637.99 206.59 L638.37 203.64 L638.75 200.77 L639.13 197.98 L639.51 195.27 L639.90 192.64 L640.28 190.09 L640.66 187.63 L641.04 185.24 L641.42 182.92 L641.80 180.68 L642.18 178.51 L642.56 176.39 L642.94 174.34 L643.33 172.34 L643.71 170.39 L644.09 168.48 L644.47 166.61 L644.85 164.79 L645.23 163.02 L645.61 161.30 L645.99 159.63 L646.37 158.00 L646.76 156.43 L647.14 154.91 L647.52 153.43 L647.90 152.00 L648.28 150.63 L648.66 149.30 L649.04 148.02 L649.42 146.79 L649.80 145.61 L650.19 144.47 L650.57 143.39 L650.95 142.35 L651.33 141.37 L651.71 140.43 L652.09 139.55 L652.47 138.71 L652.85 137.92 L653.23 137.18 L653.62 136.49 L654.00 135.84 L654.38 135.25 L654.76 134.71 L655.14 134.21 L655.52 133.77 L655.90 133.37 L656.28 133.02 L656.66 132.72 L657.05 132.47 L657.43 132.27 L657.81 132.12 L658.19 132.01 L658.57 131.96 L658.95 131.96 L659.33 132.00 L659.71 132.09 L660.09 132.23 L660.48 132.41 L660.86 132.64 L661.24 132.90 L661.62 133.22 L662.00 133.57 L662.38 133.96 L662.76 134.38 L663.14 134.85 L663.52 135.35 L663.91 135.88 L664.29 136.45 L664.67 137.05 L665.05 137.68 L665.43 138.34 L665.81 139.02 L666.19 139.74 L666.57 140.48 L666.95 141.25 L667.34 142.04 L667.72 142.85 L668.10 143.69 L668.48 144.54 L668.86 145.42 L669.24 146.31 L669.62 147.22 L670.00 148.15 L670.38 149.09 L670.76 150.05 L671.15 151.02 L671.53 152.00 L671.91 152.99 L672.29 153.99 L672.67 155.00 L673.05 156.02 L673.43 157.05 L673.81 158.09 L674.19 159.13 L674.58 160.17 L674.96 161.22 L675.34 162.27 L675.72 163.32 L676.10 164.38 L676.48 165.43 L676.86 166.49 L677.24 167.54 L677.62 168.59 L678.01 169.65 L678.39 170.69 L678.77 171.74 L679.15 172.78 L679.53 173.82 L679.91 174.85 L680.29 175.88 L680.67 176.90 L681.05 177.91 L681.44 178.92 L681.82 179.92 L682.20 180.91 L682.58 181.90 L682.96 182.88 L683.34 183.85 L683.72 184.81 L684.10 185.76 L684.48 186.71 L684.87 187.64 L685.25 188.57 L685.63 189.49 L686.01 190.40 L686.39 191.30 L686.77 192.19 L687.15 193.07 L687.53 193.95 L687.91 194.82 L688.30 195.67 L688.68 196.52 L689.06 197.36 L689.44 198.19 L689.82 199.02 L690.20 199.83 L690.58 200.63 L690.96 201.43 L691.34 202.22 L691.73 203.00 L692.11 203.77 L692.49 204.53 L692.87 205.28 L693.25 206.03 L693.63 206.76 L694.01 207.49 L694.39 208.21 L694.77 208.92 L695.16 209.62 L695.54 210.31 L695.92 210.99 L696.30 211.67 L696.68 212.33 L697.06 212.99 L697.44 213.64 L697.82 214.28 L698.20 214.91 L698.59 215.53 L698.97 216.15 L699.35 216.75 L699.73 217.35 L700.11 217.94 L700.49 218.51 L700.87 219.08 L701.25 219.65 L701.63 220.20 L702.02 220.74 L702.40 221.27 L702.78 221.78 L703.16 222.28 L703.54 222.75 L703.92 223.22 L704.30 223.66 L704.68 224.09 L705.06 224.50 L705.45 224.89 L705.83 225.26 L706.21 225.62 L706.59 225.96 L706.97 226.28 L707.35 226.58 L707.73 226.87 L708.11 227.14 L708.49 227.39 L708.87 227.63 L709.26 227.85 L709.64 228.05 L710.02 228.23 L710.40 228.39 L710.78 228.54 L711.16 228.67 L711.54 228.79 L711.92 228.88 L712.30 228.96 L712.69 229.02 L713.07 229.07 L713.45 229.09 L713.83 229.10 L714.21 229.10 L714.59 229.10 L714.97 229.10 L1756.90 229.10"/>
<text class="tk" text-anchor="end" x="209.3" y="945.70">0</text>
<text class="tk" text-anchor="end" x="209.3" y="771.60">20</text>
<text class="tk" text-anchor="end" x="209.3" y="597.50">40</text>
<text class="tk" text-anchor="end" x="209.3" y="423.40">60</text>
<text class="tk" text-anchor="end" x="209.3" y="249.30">80</text>
<text class="tk" text-anchor="end" x="209.3" y="75.20">100</text>
<text class="tk" text-anchor="middle" x="232.50" y="1087">0</text>
<text class="tk" text-anchor="middle" x="613.60" y="1087">10</text>
<text class="tk" text-anchor="middle" x="994.70" y="1087">20</text>
<text class="tk" text-anchor="middle" x="1375.80" y="1087">30</text>
<text class="tk" text-anchor="middle" x="1756.90" y="1087">40</text>
<text class="lb" text-anchor="middle" x="995.2" y="1174.2">Time (s)</text>
<text class="lb yl" text-anchor="middle" transform="translate(81 534.5) rotate(-90)">Displacement (cm)</text>
<path class="lg" stroke="#515151" d="M660.00 51 H806.60"/>
<text class="tk lgt" x="822.40" y="73.20">40cm</text>
<path class="lg" stroke="#F14040" d="M1034.00 51 H1180.60"/>
<text class="tk lgt" x="1196.20" y="73.20">50cm</text>
<path class="lg" stroke="#1A6FDF" d="M1408.00 51 H1554.60"/>
<text class="tk lgt" x="1570.20" y="73.20">60cm</text>
<path class="lg" stroke="#37AD6B" d="M1035.40 132 H1182.00"/>
<text class="tk lgt" x="1197.60" y="154.20">70cm</text>
<path class="lg" stroke="#B177DE" d="M1409.40 132 H1556.00"/>
<text class="tk lgt" x="1571.60" y="154.20">80cm</text>
</svg></body></html>
